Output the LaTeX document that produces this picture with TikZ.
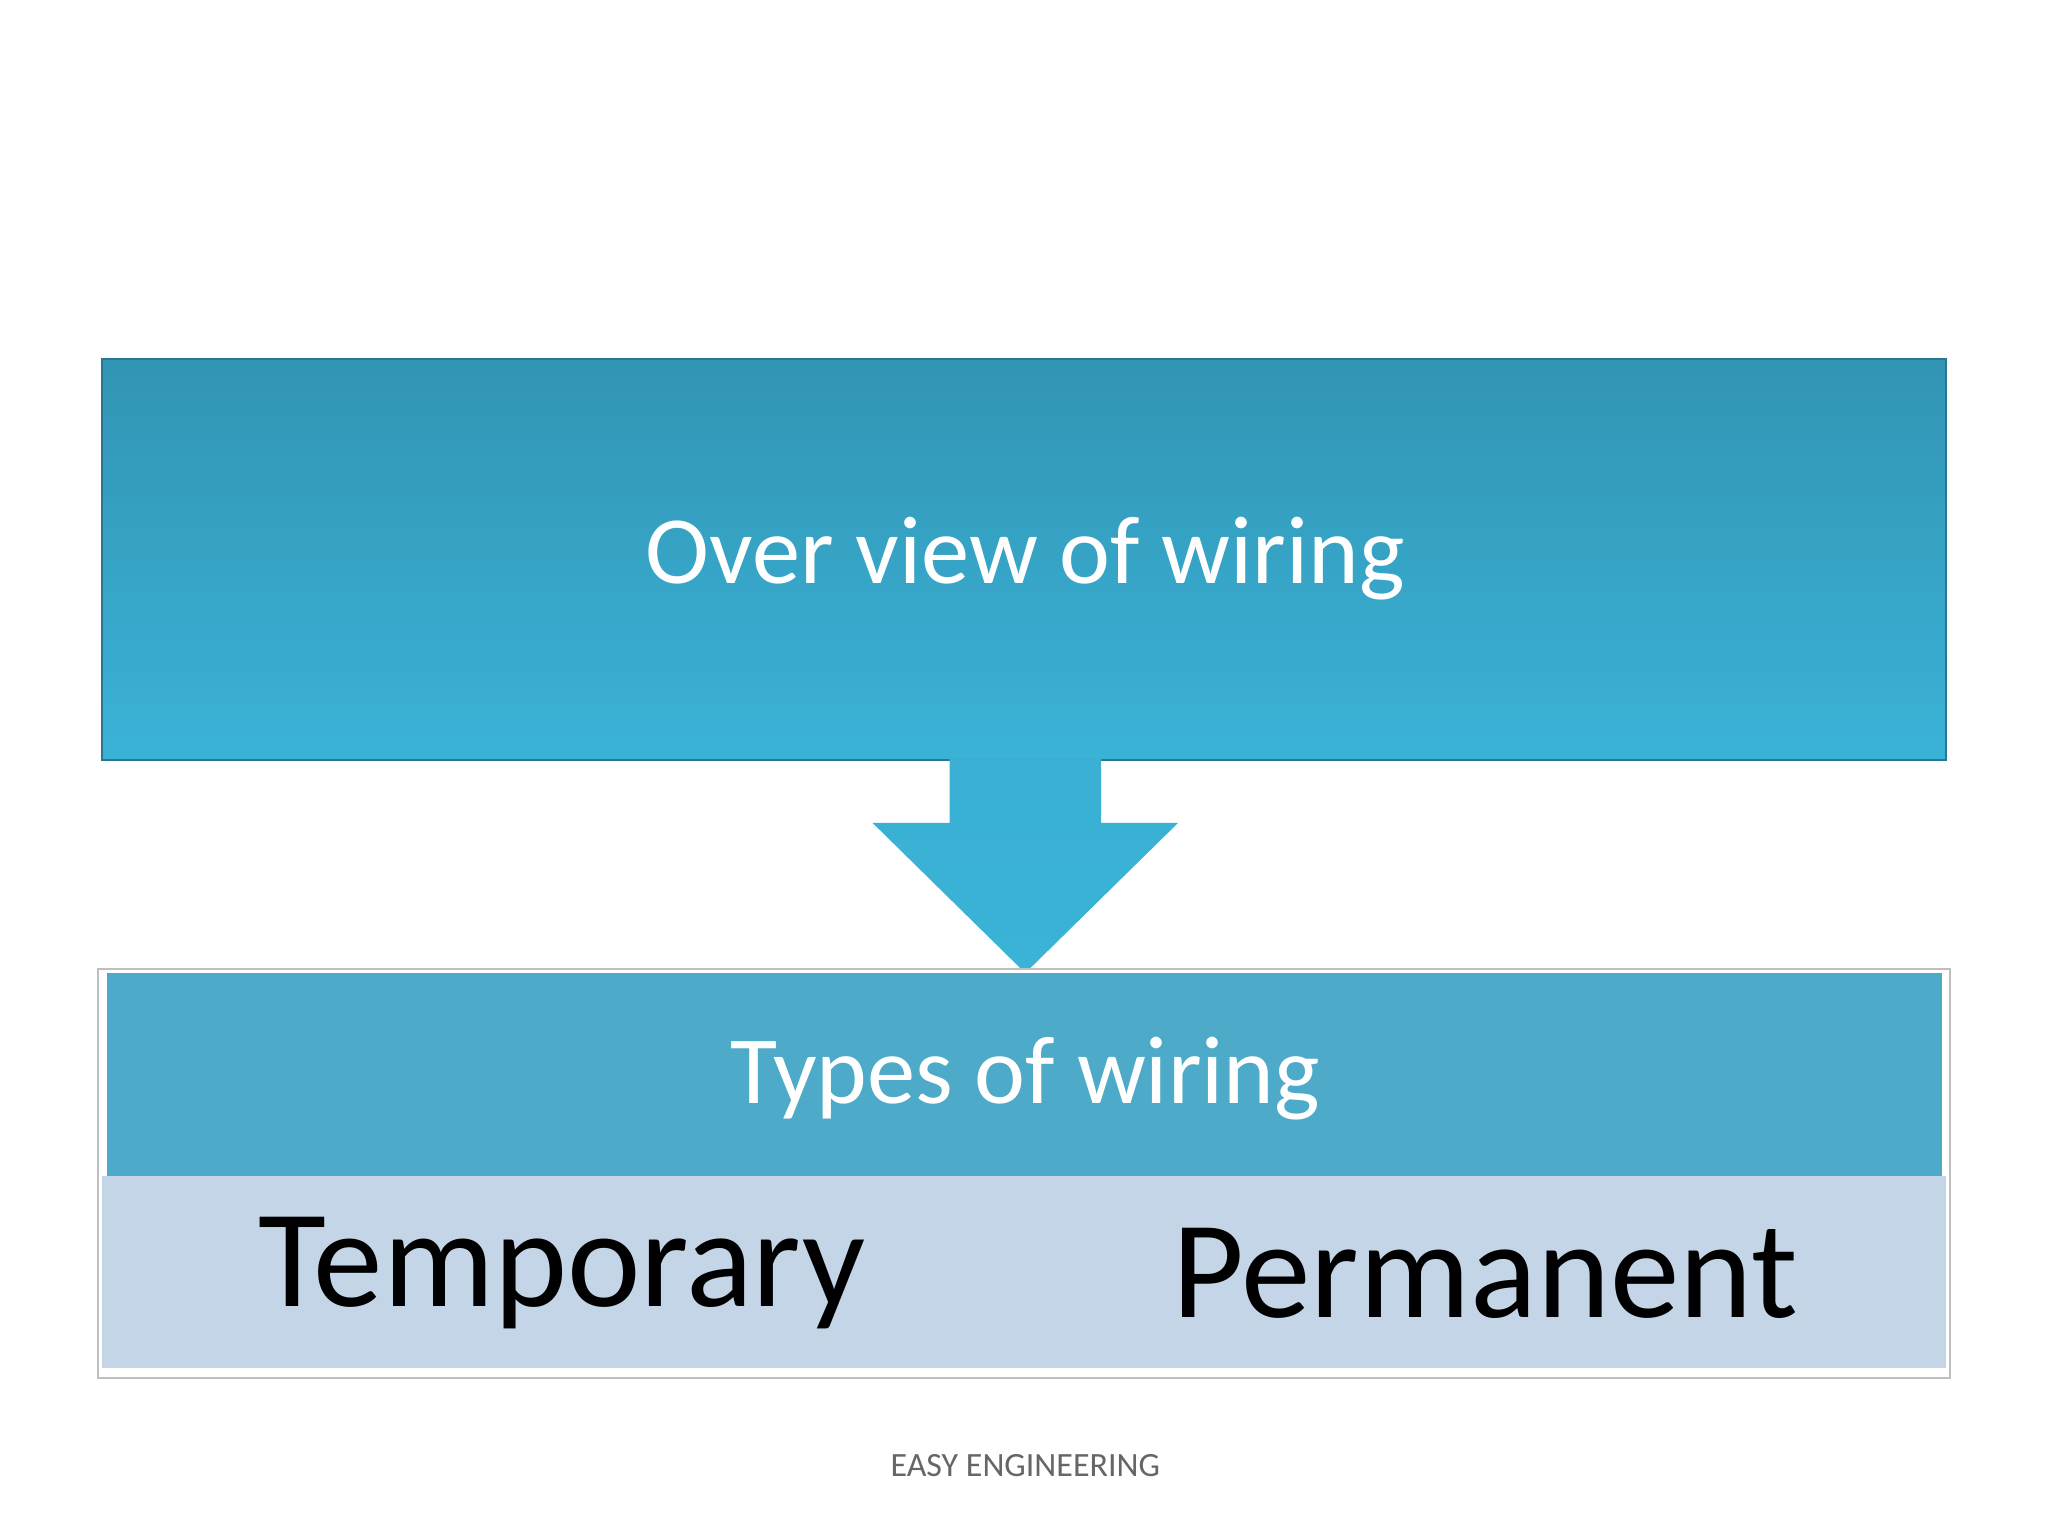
\documentclass[tikz,border=0pt]{standalone}
\usepackage{fontspec}
\setmainfont{Carlito}
\usetikzlibrary{positioning}
\definecolor{tealtop}{HTML}{3294B4}
\definecolor{tealbot}{HTML}{3AB3D7}
\definecolor{band}{HTML}{4DAAC8}
\definecolor{pale}{HTML}{C5D5E8}
\tikzset{
  headbox/.style={top color=tealtop,bottom color=tealbot,draw=tealtop!80!black,line width=0.4pt},
  title/.style={text=white,font=\fontsize{21}{25}\selectfont},
  item/.style={text=black,font=\fontsize{30.3}{36}\selectfont}
}
\begin{document}
\begin{tikzpicture}[x=0.01cm,y=-0.01cm]
\useasboundingbox (0,0) rectangle (1568,1176);
% top box
\shade[headbox] (78,275) rectangle (1490,582);
\node[title] (over) at (785,428) {Over view of wiring};
% arrow
\shade[top color=tealbot!90!tealtop,bottom color=tealbot]
  (727,580) -- (843,580) -- (843,630) -- (902,630) -- (785,745) -- (668,630) -- (727,630) -- cycle;
% bottom box
\draw[gray!50,fill=white] (75,742) rectangle (1493,1055);
\fill[band] (82,745) rectangle (1487,900);
\fill[pale] (78,900) rectangle (1490,1047);
\node[title] (types) at (785,826) {Types of wiring};
\node[item] (temp) at (430,975) {Temporary};
\node[item] (perm) at (1137,975) {Permanent};
\node[text=gray!80!black,font=\fontsize{7.4}{9}\selectfont] (foot) at (785,1122) {EASY ENGINEERING};
\end{tikzpicture}
\end{document}
